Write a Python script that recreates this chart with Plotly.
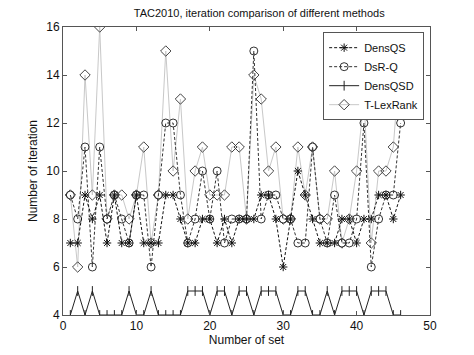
import plotly.graph_objects as go

sets = list(range(1, 47))

densqs = [7, 7, 9, 8, 9, 7, 9, 7, 7, 9, 7, 7, 7, 9, 9, 8, 7, 7, 8, 8, 7, 8, 7, 8, 8,
          8, 9, 9, 8, 6, 8, 10, 9, 8, 7, 7, 7, 8, 8, 7, 8, 8, 9, 9, 8, 9]
dsrq = [9, 8, 11, 6, 11, 8, 9, 8, 7, 9, 9, 6, 9, 12, 12, 9, 7, 8, 10, 8, 10, 7, 8, 8, 8,
        15, 8, 9, 9, 8, 8, 7, 7, 11, 8, 7, 9, 7, 7, 8, 12, 6, 8, 9, 9, 12]
densqsd = [4, 5, 4, 5, 4, 4, 4, 4, 5, 4, 4, 5, 4, 4, 4, 4, 5, 5, 5, 4, 5, 5, 4, 5, 5,
           4, 5, 5, 5, 4, 4, 5, 5, 4, 4, 5, 4, 5, 5, 5, 4, 5, 5, 5, 4, 4]
tlexrank = [9, 6, 14, 9, 16, 8, 9, 9, 8, 9, 11, 7, 9, 15, 10, 13, 8, 10, 11, 9, 9, 9, 11, 11, 8,
            14, 13, 10, 11, 8, 8, 11, 9, 11, 8, 8, 10, 7, 8, 10, 13, 7, 10, 10, 11, 15]

x_ticks = [0, 10, 20, 30, 40, 50]
y_ticks = [4, 6, 8, 10, 12, 14, 16]

FONT = "Liberation Sans, Arial, sans-serif"

fig = go.Figure()
fig.add_trace(go.Scatter(
    x=sets, y=tlexrank, name="T-LexRank", mode="lines+markers",
    line=dict(color="#c8c8c8", width=1),
    marker=dict(symbol="diamond-open", size=8, color="#444444", line=dict(width=1)),
    legendrank=4))
fig.add_trace(go.Scatter(
    x=sets, y=densqsd, name="DensQSD", mode="lines+markers",
    line=dict(color="#222222", width=1),
    marker=dict(symbol="line-ns-open", size=7, color="#222222", line=dict(width=1)),
    legendrank=3))
fig.add_trace(go.Scatter(
    x=sets, y=dsrq, name="DsR-Q", mode="lines+markers",
    line=dict(color="#333333", width=1, dash="3px,2px"),
    marker=dict(symbol="circle-open", size=8, color="#333333", line=dict(width=1)),
    legendrank=2))
fig.add_trace(go.Scatter(
    x=sets, y=densqs, name="DensQS", mode="lines+markers",
    line=dict(color="#111111", width=1, dash="3px,2px"),
    marker=dict(symbol="asterisk-open", size=7, color="#111111", line=dict(width=1)),
    legendrank=1))

axis_common = dict(
    showline=True, linecolor="#555555", linewidth=1, mirror="ticks",
    ticks="inside", ticklen=4, tickcolor="#555555", showgrid=False, zeroline=False,
    tickfont=dict(family=FONT, size=12, color="#111111"),
)

fig.update_layout(
    width=474, height=355,
    paper_bgcolor="white", plot_bgcolor="white",
    margin=dict(l=55, r=52, t=19, b=48),
    title=dict(text="TAC2010, iteration comparison of different methods",
               x=0.53, xanchor="center", y=0.995, yanchor="top",
               font=dict(family=FONT, size=11, color="#111111")),
    xaxis=dict(range=[0, 50], tickvals=x_ticks,
               title=dict(text="Number of set", standoff=2,
                          font=dict(family=FONT, size=12, color="#111111")),
               **axis_common),
    yaxis=dict(range=[4, 16], tickvals=y_ticks,
               title=dict(text="Number of iteration", standoff=6,
                          font=dict(family=FONT, size=12, color="#111111")),
               **axis_common),
    legend=dict(x=0.984, y=0.982, xanchor="right", yanchor="top",
                bgcolor="white", bordercolor="#555555", borderwidth=1,
                font=dict(family=FONT, size=11, color="#111111"),
                tracegroupgap=0, itemwidth=30),
    showlegend=True,
)

fig.write_html("out.html")
